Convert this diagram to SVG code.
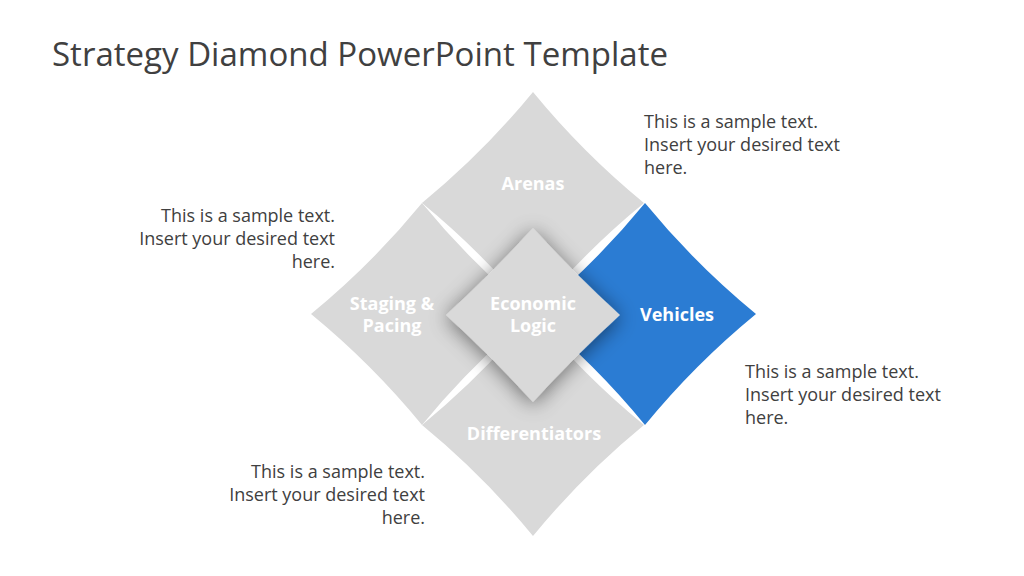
<svg xmlns="http://www.w3.org/2000/svg" xmlns:xlink="http://www.w3.org/1999/xlink" width="1024" height="576" viewBox="0 0 1024 576">
  <style>
    .title { font-family: "Open Sans", "Liberation Sans", sans-serif; font-size: 32px; fill: #404040; }
    .body { font-family: "Open Sans", "Liberation Sans", sans-serif; font-size: 18px; fill: #404040; }
    .lbl { font-family: "Open Sans", "Liberation Sans", sans-serif; font-size: 18px; font-weight: bold; fill: #ffffff; text-anchor: middle; }
    .gray { fill: #D9D9D9; }
    .blue { fill: #2B7CD3; }
    .end { text-anchor: end; }
  </style>
  <defs>
    <path id="outer" d="M0,-111 Q50,-50 111,0 Q50,50 0,111 Q-50,50 -111,0 Q-50,-50 0,-111 Z"/>
    <path id="inner" d="M0,-87 Q41.5,-41.5 87,0 Q41.5,41.5 0,87 Q-41.5,41.5 -87,0 Q-41.5,-41.5 0,-87 Z"/>
    <filter id="shadow" x="-40%" y="-40%" width="180%" height="180%">
      <feGaussianBlur in="SourceAlpha" stdDeviation="10"/>
      <feOffset dx="0" dy="3" result="b"/>
      <feFlood flood-color="#000000" flood-opacity="0.5"/>
      <feComposite in2="b" operator="in" result="s"/>
      <feMerge>
        <feMergeNode in="s"/>
        <feMergeNode in="SourceGraphic"/>
      </feMerge>
    </filter>
  </defs>
  <rect width="1024" height="576" fill="#ffffff"/>

  <text class="title" x="52" y="66" textLength="616" lengthAdjust="spacingAndGlyphs">Strategy Diamond PowerPoint Template</text>

  <g id="arenas">
    <use xlink:href="#outer" href="#outer" x="533" y="203" class="gray"/>
    <text class="lbl" x="533" y="190">Arenas</text>
  </g>
  <g id="staging">
    <use xlink:href="#outer" href="#outer" x="422" y="314" class="gray"/>
    <text class="lbl" x="392" y="310">Staging &amp;</text>
    <text class="lbl" x="392" y="332">Pacing</text>
  </g>
  <g id="vehicles">
    <use xlink:href="#outer" href="#outer" x="645" y="314" class="blue"/>
    <text class="lbl" x="677" y="321">Vehicles</text>
  </g>
  <g id="differentiators">
    <use xlink:href="#outer" href="#outer" x="533" y="425" class="gray"/>
    <text class="lbl" x="534" y="440">Differentiators</text>
  </g>
  <g id="economic-logic">
    <use xlink:href="#inner" href="#inner" x="533" y="315" class="gray" filter="url(#shadow)"/>
    <text class="lbl" x="533" y="310">Economic</text>
    <text class="lbl" x="533" y="332">Logic</text>
  </g>

  <g id="text-top-right">
    <text class="body" x="644" y="128">This is a sample text.</text>
    <text class="body" x="644" y="151">Insert your desired text</text>
    <text class="body" x="644" y="174">here.</text>
  </g>
  <g id="text-left">
    <text class="body end" x="335" y="222">This is a sample text.</text>
    <text class="body end" x="335" y="245">Insert your desired text</text>
    <text class="body end" x="335" y="268">here.</text>
  </g>
  <g id="text-right">
    <text class="body" x="745" y="378">This is a sample text.</text>
    <text class="body" x="745" y="401">Insert your desired text</text>
    <text class="body" x="745" y="424">here.</text>
  </g>
  <g id="text-bottom-left">
    <text class="body end" x="425" y="478">This is a sample text.</text>
    <text class="body end" x="425" y="501">Insert your desired text</text>
    <text class="body end" x="425" y="524">here.</text>
  </g>
</svg>
